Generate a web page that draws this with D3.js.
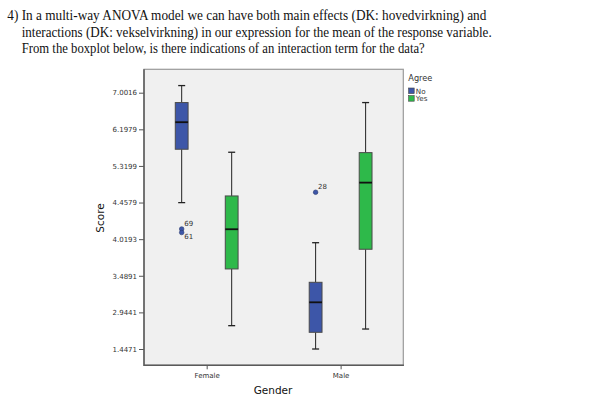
<!DOCTYPE html>
<html>
<head>
<meta charset="utf-8">
<script src="https://cdn.jsdelivr.net/npm/d3@7"></script>
<style>
  html, body { margin: 0; padding: 0; background: #fff; }
  svg { display: block; }
</style>
</head>
<body>
<svg id="chart" width="612" height="398"></svg>
<script>
// ---- data ----
const questionLines = [
  "4) In a multi-way ANOVA model we can have both main effects (DK: hovedvirkning) and",
  "interactions (DK: vekselvirkning) in our expression for the mean of the response variable.",
  "From the boxplot below, is there indications of an interaction term for the data?"
];
const genders = ["Female", "Male"];
const agreeLevels = ["No", "Yes"];
const tickLabels = ["1.4471", "2.9441", "3.4891", "4.0193", "4.4579", "5.3199", "6.1979", "7.0016"];
const tickValues = tickLabels.map(Number);
// box stats: [lowWhisker, q1, median, q3, highWhisker]
const femaleNo  = [4.457, 5.720, 6.354, 6.785, 7.158];
const femaleYes = [2.401, 3.588, 4.138, 4.613, 5.648];
const maleNo    = [1.447, 2.130, 3.094, 3.392, 3.968];
const maleYes   = [2.264, 3.873, 4.927, 5.639, 6.785];
const outlierGender = ["Female", "Female", "Male"];
const outlierAgree  = ["No", "No", "No"];
const outlierValue  = [4.141, 4.099, 4.700];
const outlierLabel  = ["69", "61", "28"];

const boxes = [
  { gender: "Female", agree: "No",  s: femaleNo },
  { gender: "Female", agree: "Yes", s: femaleYes },
  { gender: "Male",   agree: "No",  s: maleNo },
  { gender: "Male",   agree: "Yes", s: maleYes }
];
const outliers = outlierValue.map((v, i) => ({ gender: outlierGender[i], agree: outlierAgree[i], v, label: outlierLabel[i] }));

// ---- layout ----
const svg = d3.select("#chart");
const plot = { left: 144, right: 403.3, top: 69.3, bottom: 365.3 };
const tickStep = 36.614, tick0 = 349;
const color = d3.scaleOrdinal().domain(agreeLevels).range(["#3d56a8", "#2eb94a"]);

// question text
const q = svg.append("g").attr("font-family", "'Liberation Serif', 'DejaVu Serif', serif").attr("font-size", 14).attr("fill", "#111");
q.append("text").attr("x", 7.3).attr("y", 20).attr("textLength", 479).attr("lengthAdjust", "spacingAndGlyphs").text(questionLines[0]);
q.append("text").attr("x", 21.7).attr("y", 36.5).attr("textLength", 470).attr("lengthAdjust", "spacingAndGlyphs").text(questionLines[1]);
q.append("text").attr("x", 21.7).attr("y", 53).attr("textLength", 403).attr("lengthAdjust", "spacingAndGlyphs").text(questionLines[2]);

// scales
const y = d3.scaleLinear().domain(tickValues).range(tickValues.map((d, i) => tick0 - i * tickStep));
const x0 = d3.scalePoint().domain(genders).range([plot.left, plot.right]).padding(0.468);
const x1 = d3.scalePoint().domain(agreeLevels).range([-25, 25]);
const boxW = 12.8;

// plot background + frame
svg.append("rect").attr("x", plot.left).attr("y", plot.top)
  .attr("width", plot.right - plot.left).attr("height", plot.bottom - plot.top)
  .attr("fill", "#f0f0f0").attr("stroke", "#9a9a9a").attr("stroke-width", 1.2);

// axes
const yAxis = d3.axisLeft(y).tickValues(tickValues).tickFormat((d, i) => tickLabels[i]).tickSize(5).tickSizeOuter(0);
const gy = svg.append("g").attr("transform", `translate(${plot.left},0)`).call(yAxis);
gy.select(".domain").remove();
gy.selectAll(".tick line").attr("stroke", "#555").attr("stroke-width", 1);
gy.selectAll(".tick text").attr("font-family", "'DejaVu Sans', sans-serif").attr("font-size", 7).attr("fill", "#333").attr("dx", 1);

const xAxis = d3.axisBottom(x0).tickSize(4).tickSizeOuter(0);
const gx = svg.append("g").attr("transform", `translate(0,${plot.bottom})`).call(xAxis);
gx.select(".domain").remove();
gx.selectAll(".tick line").attr("stroke", "#555");
gx.selectAll(".tick text").attr("font-family", "'DejaVu Sans', sans-serif").attr("font-size", 7).attr("fill", "#333").attr("dy", "0.85em");

svg.append("line").attr("x1", plot.left).attr("x2", plot.left).attr("y1", plot.top).attr("y2", plot.bottom + 0.7)
  .attr("stroke", "#5a5a5a").attr("stroke-width", 1.5);
svg.append("line").attr("x1", plot.left).attr("x2", plot.right + 0.6).attr("y1", plot.bottom).attr("y2", plot.bottom)
  .attr("stroke", "#5a5a5a").attr("stroke-width", 1.5);

// axis titles
svg.append("text").attr("transform", `translate(104,218) rotate(-90)`).attr("text-anchor", "middle")
  .attr("font-family", "'DejaVu Sans', sans-serif").attr("font-size", 10.5).attr("fill", "#111").text("Score");
svg.append("text").attr("x", 273).attr("y", 394).attr("text-anchor", "middle")
  .attr("font-family", "'DejaVu Sans', sans-serif").attr("font-size", 10.5).attr("fill", "#111").text("Gender");

// boxes
const gb = svg.append("g");
boxes.forEach(b => {
  const cx = x0(b.gender) + x1(b.agree);
  const [lo, q1, med, q3, hi] = b.s;
  const g = gb.append("g");
  g.append("line").attr("x1", cx).attr("x2", cx).attr("y1", y(hi)).attr("y2", y(q3)).attr("stroke", "#222").attr("stroke-width", 1);
  g.append("line").attr("x1", cx).attr("x2", cx).attr("y1", y(q1)).attr("y2", y(lo)).attr("stroke", "#222").attr("stroke-width", 1);
  g.append("line").attr("x1", cx - 3.5).attr("x2", cx + 3.5).attr("y1", y(hi)).attr("y2", y(hi)).attr("stroke", "#222").attr("stroke-width", 1.3);
  g.append("line").attr("x1", cx - 3.5).attr("x2", cx + 3.5).attr("y1", y(lo)).attr("y2", y(lo)).attr("stroke", "#222").attr("stroke-width", 1.3);
  g.append("rect").attr("x", cx - boxW / 2).attr("y", y(q3)).attr("width", boxW).attr("height", y(q1) - y(q3))
    .attr("fill", color(b.agree)).attr("stroke", "#4a4a4a").attr("stroke-width", 1);
  g.append("line").attr("x1", cx - boxW / 2).attr("x2", cx + boxW / 2).attr("y1", y(med)).attr("y2", y(med))
    .attr("stroke", "#111").attr("stroke-width", 1.8);
});

// outliers
outliers.forEach((o, i) => {
  const cx = x0(o.gender) + x1(o.agree);
  svg.append("circle").attr("cx", cx).attr("cy", y(o.v)).attr("r", 2.3)
    .attr("fill", color(o.agree)).attr("stroke", "#2a3a70").attr("stroke-width", 0.6);
  const above = i !== 1;
  svg.append("text").attr("x", cx + 2.5).attr("y", y(o.v) + (above ? -3 : 6.5))
    .attr("font-family", "'DejaVu Sans', sans-serif").attr("font-size", 7).attr("fill", "#333").text(o.label);
});

// legend
const lg = svg.append("g").attr("font-family", "'DejaVu Sans', sans-serif").attr("fill", "#333");
lg.append("text").attr("x", 408.3).attr("y", 81.3).attr("font-size", 8.2).text("Agree");
agreeLevels.forEach((a, i) => {
  lg.append("rect").attr("x", 408.6).attr("y", 88 + i * 7.6).attr("width", 5.6).attr("height", 5.6)
    .attr("fill", color(a)).attr("stroke", "#444").attr("stroke-width", 0.6);
  lg.append("text").attr("x", 415.8).attr("y", 93.6 + i * 7.6).attr("font-size", 7.2).text(a);
});
</script>
</body>
</html>
